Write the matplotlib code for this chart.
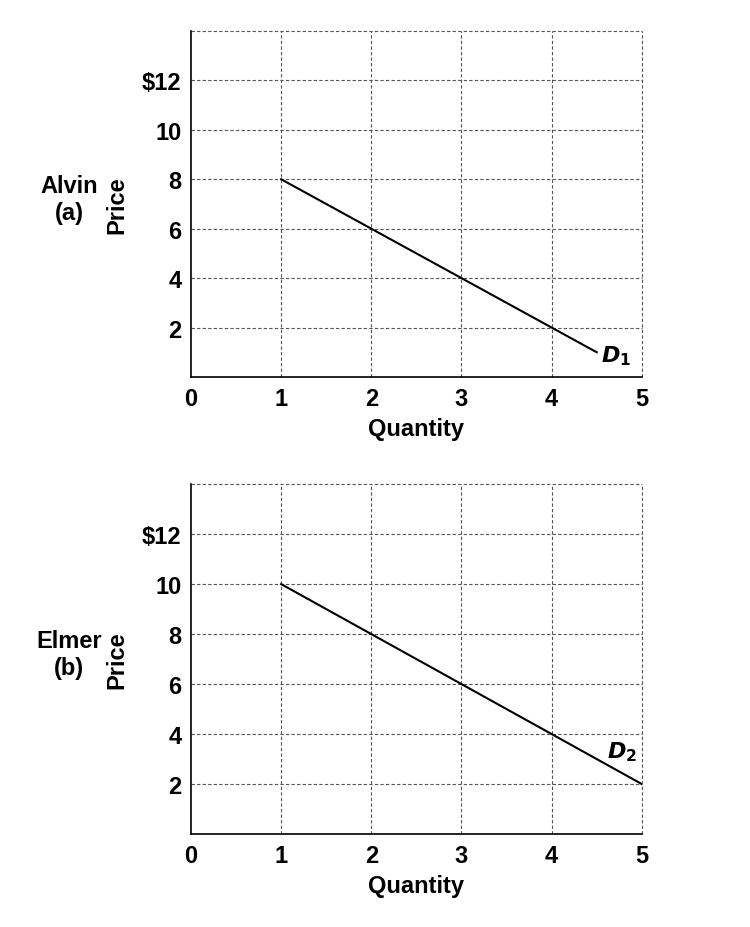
import matplotlib
matplotlib.use("Agg")
import matplotlib.pyplot as plt

plt.rcParams['font.family'] = ['Liberation Sans', 'DejaVu Sans']
plt.rcParams['font.weight'] = 'bold'

x_ticks = [0, 1, 2, 3, 4, 5]
y_ticks = [2, 4, 6, 8, 10, 12]
y_labels = ['2', '4', '6', '8', '10', '$12']
d1_q = [1, 4.5]; d1_p = [8, 1]
d2_q = [1, 5]; d2_p = [10, 2]
panels = [("Alvin\n(a)", d1_q, d1_p, r"$\mathbfit{D}_\mathbf{1}$", (4.72, 0.9)),
          ("Elmer\n(b)", d2_q, d2_p, r"$\mathbfit{D}_\mathbf{2}$", (4.78, 3.3))]

fig = plt.figure(figsize=(7.5, 9.28), dpi=100)
rects = [[0.2547, 0.5927, 0.601, 0.3728], [0.2547, 0.1002, 0.601, 0.377]]
for rect, (name, q, p, lab, lp) in zip(rects, panels):
    ax = fig.add_axes(rect)
    ax.set_xlim(0, 5); ax.set_ylim(0, 14)
    for s in ['top', 'right']:
        ax.spines[s].set_visible(False)
    for s in ['left', 'bottom']:
        ax.spines[s].set_linewidth(1.2)
    for xv in [1, 2, 3, 4, 5]:
        ax.axvline(xv, color='#555555', ls=(0, (3, 2)), lw=0.8, clip_on=False)
    for yv in [2, 4, 6, 8, 10, 12, 14]:
        ax.axhline(yv, color='#555555', ls=(0, (3, 2)), lw=0.8, clip_on=False)
    ax.plot(q, p, color='black', lw=1.5)
    ax.set_xticks(x_ticks)
    ax.set_xticklabels([str(v) for v in x_ticks], fontsize=17, fontweight='bold')
    ax.set_yticks(y_ticks)
    ax.set_yticklabels(y_labels, fontsize=17, fontweight='bold')
    ax.tick_params(length=0, pad=7)
    ax.set_xlabel("Quantity", fontsize=17, fontweight='bold', labelpad=5)
    ax.set_ylabel("Price", fontsize=17, fontweight='bold')
    ax.yaxis.set_label_coords(-0.14, 0.5)
    ax.text(lp[0], lp[1], lab, fontsize=16, ha='center', va='center')
    ax.text(-1.35, 7.2, name, fontsize=17,
            fontweight='bold', ha='center', va='center')
fig.savefig("out.png", dpi=100)
